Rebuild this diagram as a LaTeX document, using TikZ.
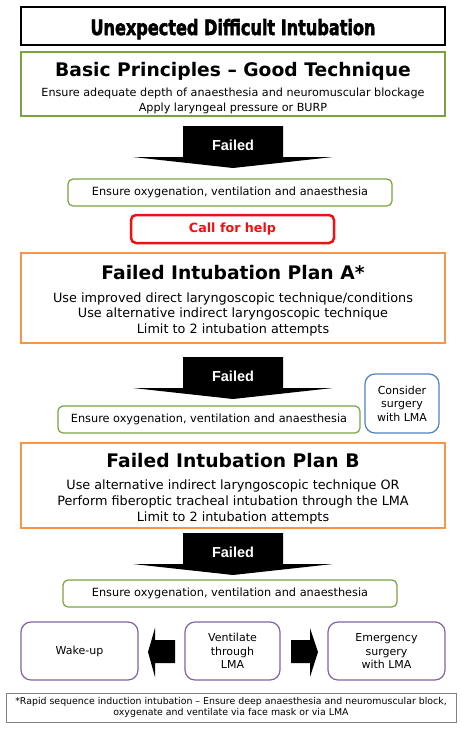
\documentclass[tikz,border=0pt]{standalone}
\usepackage{fontspec}
\usepackage{graphicx}
\setmainfont{DejaVu Sans}
\newfontfamily\arialfont{Liberation Sans}
\newfontfamily\titlefont{DejaVu Sans}[UprightFont={* Bold}, FakeBold=2.5]

\begin{document}
\begin{tikzpicture}[x=1pt,y=-1pt]
\definecolor{boxgreen}{RGB}{122,163,64}
\definecolor{boxorange}{RGB}{247,150,70}
\definecolor{boxblue}{RGB}{79,129,189}
\definecolor{boxpurple}{RGB}{128,100,162}
\definecolor{helpred}{RGB}{240,16,16}
\tikzstyle{bigbox} = [draw, line width=1.5pt, minimum width=424pt, inner sep=0]
\tikzstyle{head} = [anchor=base, font=\bfseries\fontsize{18.7}{21}\selectfont]
\tikzstyle{txt} = [anchor=base, font=\fontsize{12.8}{15}\selectfont]
\tikzstyle{oxy} = [draw=boxgreen, line width=1.2pt, rounded corners=5pt, minimum height=27pt, font=\fontsize{11.3}{13}\selectfont]
\tikzstyle{choice} = [draw=boxpurple, line width=1.2pt, rounded corners=10pt, minimum height=58pt, align=center, font=\fontsize{11}{13.3}\selectfont]
\tikzstyle{failtext} = [anchor=base, text=white, font=\arialfont\bfseries\fontsize{14.5}{16}\selectfont]

\useasboundingbox (0,0) rectangle (461,729);

% title and basic principles
\node[draw, line width=2pt, minimum width=424pt, minimum height=38pt] (title) at (233,26) {};
\node[anchor=base] (titletext) at (233,35) {\resizebox{285pt}{16pt}{\titlefont Unexpected Difficult Intubation}};

\node[bigbox, draw=boxgreen, minimum height=64pt] (basic) at (233,84) {};
\node[head] (basichead) at (233,76) {Basic Principles -- Good Technique};
\node[txt, font=\fontsize{11.2}{13}\selectfont] (basic1) at (233,96) {Ensure adequate depth of anaesthesia and neuromuscular blockage};
\node[txt, font=\fontsize{11.2}{13}\selectfont] (basic2) at (233,111) {Apply laryngeal pressure or BURP};

% failed arrows
\foreach \t/\n in {126/1,357/2,533/3} {
  \fill (183,\t) -- (283,\t) -- (283,\t+31) -- (333,\t+31) -- (233,\t+42) -- (133,\t+31) -- (183,\t+31) -- cycle;
  \node[failtext] (failed\n) at (233,\t+24) {Failed};
}

\node[oxy, minimum width=324pt] (oxy1) at (230,192.5) {Ensure oxygenation, ventilation and anaesthesia};
\node[draw=helpred, line width=2.5pt, rounded corners=5pt, minimum width=203pt, minimum height=28pt, text=helpred, font=\bfseries\fontsize{12.7}{14}\selectfont] (help) at (232.5,229) {Call for help};

% plan A
\node[bigbox, draw=boxorange, minimum height=90pt] (planA) at (233,298) {};
\node[head] (planAhead) at (233,279) {Failed Intubation Plan A*};
\node[txt] (planA1) at (233,302.7) {Use improved direct laryngoscopic technique/conditions};
\node[txt] (planA2) at (233,317.7) {Use alternative indirect laryngoscopic technique};
\node[txt] (planA3) at (233,333) {Limit to 2 intubation attempts};

\node[oxy, minimum width=302pt] (oxy2) at (209,419.5) {Ensure oxygenation, ventilation and anaesthesia};
\node[draw=boxblue, line width=1.2pt, rounded corners=10pt, minimum width=74pt, minimum height=59pt, align=center, font=\fontsize{11}{13.5}\selectfont] (surgery) at (402,403.5) {Consider\\surgery\\with LMA};

% plan B
\node[bigbox, draw=boxorange, minimum height=85pt] (planB) at (233,485.5) {};
\node[head] (planBhead) at (233,467) {Failed Intubation Plan B};
\node[txt] (planB1) at (233,489) {Use alternative indirect laryngoscopic technique OR};
\node[txt] (planB2) at (233,505) {Perform fiberoptic tracheal intubation through the LMA};
\node[txt] (planB3) at (233,521) {Limit to 2 intubation attempts};

\node[oxy, minimum width=334pt] (oxy3) at (230,593.5) {Ensure oxygenation, ventilation and anaesthesia};

% last choices
\node[choice, minimum width=117pt] (wake) at (79.5,651) {Wake-up};
\node[choice, minimum width=95pt] (vent) at (232.5,651) {Ventilate\\through\\LMA};
\node[choice, minimum width=117pt] (emerg) at (386.5,651) {Emergency\\surgery\\with LMA};
\fill (175,640) -- (155,640) -- (155,628) -- (148,652) -- (155,677) -- (155,663) -- (175,663) -- cycle;
\fill (291,640) -- (310,640) -- (310,628) -- (318,652) -- (310,677) -- (310,663) -- (291,663) -- cycle;

\node[draw=gray, line width=1pt, minimum width=450pt, minimum height=29pt, align=center, font=\fontsize{9.4}{11}\selectfont] (note) at (231,707.5) {*Rapid sequence induction intubation -- Ensure deep anaesthesia and neuromuscular block,\\oxygenate and ventilate via face mask or via LMA};

\end{tikzpicture}
\end{document}
